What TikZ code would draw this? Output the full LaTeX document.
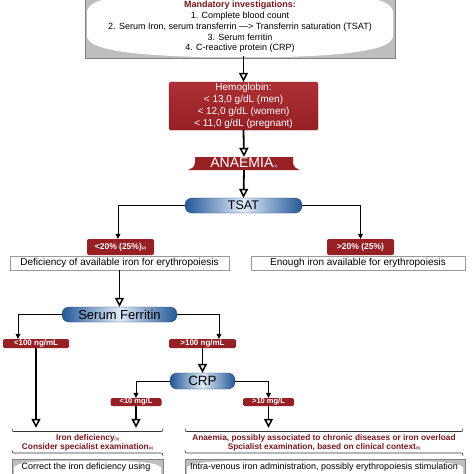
\documentclass[tikz,border=0pt]{standalone}
\usepackage{fontspec}
\setmainfont{Liberation Sans}
\usetikzlibrary{arrows.meta,calc}
\definecolor{myred}{RGB}{150,32,36}
\definecolor{myredlight}{RGB}{172,48,52}
\definecolor{darkred}{RGB}{120,22,28}
\definecolor{capdark}{RGB}{36,88,152}
\definecolor{caplight}{RGB}{222,234,248}
\definecolor{boxgray}{RGB}{190,190,190}
\newcommand{\myfs}[2]{\fontsize{#1}{#2}\selectfont}
\newcommand{\tinyref}[1]{{\myfs{3.5}{4}#1}}
\newcommand{\brkbox}[4]{%
  \draw[brline] (#1,#3-3) .. controls (#1,#3) .. (#1+4,#3) -- (#2-4,#3) .. controls (#2,#3) .. (#2,#3-3);
  \draw[brline] (#1,#4-3) .. controls (#1,#4) .. (#1+4,#4) -- (#2-4,#4) .. controls (#2,#4) .. (#2,#4+3);
}
\tikzset{
  redrect/.style={top color=myredlight, bottom color=myred, text=white, rounded corners=1.5pt, inner sep=0pt, draw=myred!80!black, line width=0.3pt},
  redtag/.style={fill=myred, text=white, rounded corners=2pt, inner sep=0pt, font=\bfseries\myfs{8.5}{9}},
  smalltag/.style={fill=myred, text=white, rounded corners=1.5pt, inner sep=0pt, font=\bfseries\myfs{8}{8}},
  capsule/.style={rounded corners=7pt, left color=capdark, right color=capdark, middle color=caplight, draw=capdark!70!black, line width=0.3pt, inner sep=0pt, text=black},
  bigarrow/.style={line width=1.8pt, -{Triangle[open, length=9pt, width=9pt, line width=1.5pt]}},
  thinarrow/.style={line width=0.8pt, -{Triangle[length=5pt, width=5pt]}},
  grayrect/.style={draw=gray!80, line width=0.6pt, fill=white, inner sep=0pt, font=\myfs{10}{10}},
  brline/.style={line width=0.6pt, draw=black!80},
  brtext/.style={inner sep=0pt, align=center, text=darkred, font=\bfseries\myfs{8.3}{9}},
}
\begin{document}
\begin{tikzpicture}[x=1pt,y=-1pt]
\useasboundingbox (0,0) rectangle (474,474);
\clip (0,0) rectangle (474,474);

% top box background
\fill[boxgray, draw=gray] (85,-5) rectangle (395,58);
\fill[white] (87,12) -- (87,36) .. controls (88,50) and (130,55) .. (200,57) -- (285,57) .. controls (350,55) and (392,50) .. (393,36) -- (393,12) .. controls (392,3) and (380,0) .. (365,-3) -- (115,-3) .. controls (100,0) and (88,3) .. (87,12) -- cycle;
\node[align=center, inner sep=0pt, minimum width=310, minimum height=58, font=\myfs{9}{10.7}] (inv) at (240,27)
  {\textcolor{darkred}{\textbf{Mandatory investigations:}}\\ 1. Complete blood count\\ 2. Serum Iron, serum transferrin —> Transferrin saturation (TSAT)\\ 3. Serum ferritin\\ 4. C-reactive protein (CRP)};

% hemoglobin
\node[redrect, minimum width=149, minimum height=48, align=center, font=\myfs{10}{12}] (hb) at (243.5,106)
  {Hemoglobin:\\ < 13,0 g/dL (men)\\ < 12,0 g/dL (women)\\ < 11,0 g/dL (pregnant)};

% anaemia banner
\fill[myred] (195,157) -- (293,157) -- (293,163) .. controls (294,168) and (297,169) .. (300,170) -- (188,170) .. controls (191,169) and (194,168) .. (195,163) -- cycle;
\node[inner sep=0pt, minimum width=112, minimum height=13, text=white, font=\myfs{14}{14}] (an) at (244,163.5) {ANAEMIA\tinyref{(1)}};

% TSAT
\node[capsule, minimum width=117, minimum height=15, font=\myfs{12.5}{12.5}] (tsat) at (243.5,205.5) {TSAT};

\node[redtag, minimum width=67, minimum height=16] (lt) at (120.5,247) {<20\% (25\%)\tinyref{(2)}};
\node[redtag, minimum width=67, minimum height=16] (gt) at (360.5,247) {>20\% (25\%)};

\node[grayrect, minimum width=219, minimum height=14] (dfc) at (119.5,263) {Deficiency of available iron for erythropoiesis};
\node[grayrect, minimum width=214, minimum height=14] (enh) at (358,263) {Enough iron available for erythropoiesis};

% Serum ferritin
\node[capsule, minimum width=115, minimum height=15, font=\myfs{13}{13}] (sf) at (119.5,314.5) {Serum Ferritin};
\node[smalltag, minimum width=66, minimum height=9] (lo) at (36,343.5) {<100 ng/mL};
\node[smalltag, minimum width=67, minimum height=9] (hi) at (202.5,343.5) {>100 ng/mL};

% CRP
\node[capsule, minimum width=65, minimum height=16, font=\myfs{13.5}{13.5}] (crp) at (202.5,381) {CRP};
\node[smalltag, minimum width=51, minimum height=8, font=\bfseries\myfs{7.5}{7.5}] (l10) at (136,402) {<10 mg/L};
\node[smalltag, minimum width=51, minimum height=8, font=\bfseries\myfs{7.5}{7.5}] (g10) at (268.5,402) {>10 mg/L};

% bracket boxes
\brkbox{12}{163}{431.5}{453}
\brkbox{185}{463}{431.5}{453}
\node[brtext, minimum width=151, minimum height=25] (idf) at (87.5,442.5) {Iron deficiency\tinyref{(3)}\\ Consider specialist examination\tinyref{(4)}};
\node[brtext, minimum width=278, minimum height=25] (ana) at (324,442.5) {Anaemia, possibly associated to chronic diseases or iron overload\\ Spcialist examination, based on clinical context\tinyref{(5)}};

% bottom boxes
\fill[boxgray, draw=gray] (12,459) rectangle (163,480);
\fill[white] (14,480) -- (14,468) .. controls (15,463) and (30,461) .. (60,461) -- (110,461) .. controls (140,461) and (160,463) .. (161,468) -- (161,480) -- cycle;
\fill[boxgray, draw=gray] (185,459) rectangle (465,480);
\fill[white] (187,480) -- (187,468) .. controls (188,463) and (210,461) .. (240,461) -- (400,461) .. controls (440,461) and (462,463) .. (463,468) -- (463,480) -- cycle;
\node[inner sep=0pt, font=\myfs{9}{9}] (cor) at (86,467.5) {Correct the iron deficiency using};
\node[inner sep=0pt, font=\myfs{9}{9}] (iv) at (324,467.5) {Intra-venous iron administration, possibly erythropoiesis stimulation};

% connectors
\draw[bigarrow] (hb.north |- inv.south) -- (hb.north);
\draw[bigarrow] (hb.south) -- (an.north);
\draw[bigarrow] (an.south) -- (tsat.north);
\draw[thinarrow] (tsat.west) -| ([xshift=-2.5pt]lt.north);
\draw[thinarrow] (tsat.east) -| (gt.north);
\draw[bigarrow] (dfc.south) -- (sf.north);
\draw[thinarrow] (sf.west) -| ([xshift=-18pt]lo.north);
\draw[thinarrow] (sf.east) -| ([xshift=16.5pt]hi.north);
\draw[bigarrow] (hi.south) -- (crp.north);
\draw[thinarrow] (crp.west) -| (l10.north);
\draw[thinarrow] (crp.east) -| (g10.north);
\draw[bigarrow] (lo.south) -- ([yshift=2pt]lo.south |- idf.north);
\draw[bigarrow] (l10.south) -- ([yshift=2pt]l10.south |- idf.north);
\draw[bigarrow] (g10.south) -- ([yshift=2pt]g10.south |- ana.north);
\end{tikzpicture}
\end{document}
